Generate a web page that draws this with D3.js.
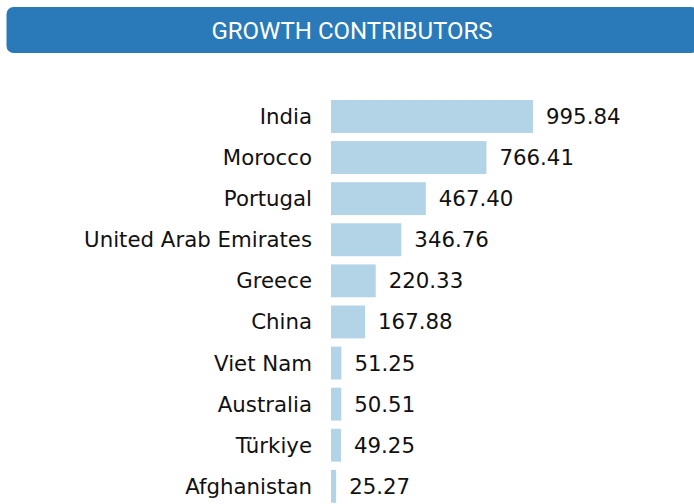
<!DOCTYPE html>
<html>
<head>
<meta charset="utf-8">
<script src="https://cdn.jsdelivr.net/npm/d3@7"></script>
<style>
  html, body { margin: 0; padding: 0; background: #fff; overflow: hidden; }
  svg { display: block; }
</style>
</head>
<body>
<script>
// Growth contributors, ranked
const countries = ["India", "Morocco", "Portugal", "United Arab Emirates", "Greece",
                   "China", "Viet Nam", "Australia", "Türkiye", "Afghanistan"];
const contributions = [995.84, 766.41, 467.40, 346.76, 220.33, 167.88, 51.25, 50.51, 49.25, 25.27];
const title = "GROWTH CONTRIBUTORS";

const W = 694, H = 504;
const data = countries.map((c, i) => ({ name: c, value: contributions[i] }));

const svg = d3.select("body").append("svg")
  .attr("width", W).attr("height", H);

// header banner
svg.append("rect")
  .attr("x", 6.5).attr("y", 7)
  .attr("width", 692).attr("height", 46)
  .attr("rx", 7).attr("ry", 7)
  .attr("fill", "#2a7ab9");

svg.append("text")
  .attr("x", 352).attr("y", 31)
  .attr("text-anchor", "middle")
  .attr("dominant-baseline", "central")
  .attr("fill", "#fff")
  .attr("font-family", "Roboto, sans-serif")
  .attr("font-size", 24)
  .text(title);

const x0 = 331;
const x = d3.scaleLinear()
  .domain([0, d3.max(contributions)])
  .range([x0, x0 + 202]);

const y = d3.scaleBand()
  .domain(countries)
  .range([91.8, 511])
  .padding(0.2);

const g = svg.append("g");

g.selectAll("rect.bar")
  .data(data)
  .join("rect")
  .attr("class", "bar")
  .attr("x", x(0))
  .attr("y", d => y(d.name))
  .attr("width", d => x(d.value) - x(0))
  .attr("height", y.bandwidth())
  .attr("fill", "#b3d3e6");

const font = "'DejaVu Sans', sans-serif";
const fs = 21.3;

g.selectAll("text.cat")
  .data(data)
  .join("text")
  .attr("class", "cat")
  .attr("x", x0 - 19)
  .attr("y", d => y(d.name) + y.bandwidth() / 2)
  .attr("text-anchor", "end")
  .attr("dominant-baseline", "central")
  .attr("font-family", font)
  .attr("font-size", fs)
  .attr("fill", "#111")
  .text(d => d.name);

g.selectAll("text.val")
  .data(data)
  .join("text")
  .attr("class", "val")
  .attr("x", d => x(d.value) + 13)
  .attr("y", d => y(d.name) + y.bandwidth() / 2)
  .attr("dominant-baseline", "central")
  .attr("font-family", font)
  .attr("font-size", fs)
  .attr("fill", "#111")
  .text(d => d3.format(".2f")(d.value));
</script>
</body>
</html>
